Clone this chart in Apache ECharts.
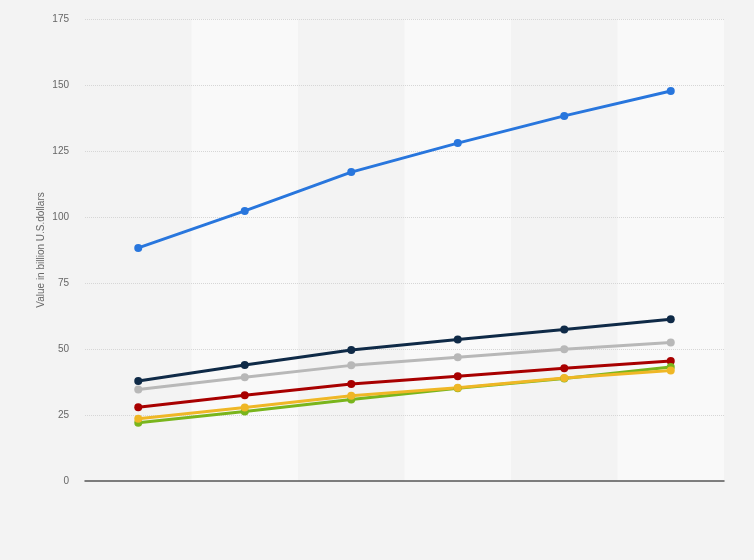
<!DOCTYPE html>
<html>
<head>
<meta charset="utf-8">
<script src="https://cdn.jsdelivr.net/npm/echarts@6/dist/echarts.min.js"></script>
<style>
html,body{margin:0;padding:0;background:#f3f3f3;}
#c{width:754px;height:560px;}
</style>
</head>
<body>
<div id="c"></div>
<script>
var categories = ['1', '2', '3', '4', '5', '6'];
var blueSeries = [88.3, 102.3, 117.0, 128.0, 138.3, 147.7];
var navySeries = [37.9, 43.9, 49.6, 53.6, 57.4, 61.3];
var graySeries = [34.7, 39.3, 43.8, 46.9, 49.9, 52.5];
var redSeries = [27.9, 32.5, 36.7, 39.7, 42.7, 45.5];
var greenSeries = [22.1, 26.3, 30.9, 35.1, 38.8, 43.2];
var yellowSeries = [23.6, 27.8, 32.3, 35.3, 39.0, 41.9];
var yTicks = [0, 25, 50, 75, 100, 125, 150, 175];

function mk(name, data, color) {
  return {
    name: name, type: 'line', data: data,
    symbol: 'circle', symbolSize: 8,
    lineStyle: {width: 3, color: color},
    itemStyle: {color: color},
    emphasis: {disabled: true},
    z: 3
  };
}

var chart = echarts.init(document.getElementById('c'), null, {renderer: 'canvas'});
chart.setOption({
  backgroundColor: '#f3f3f3',
  animation: false,
  grid: {left: 85, right: 30, top: 19, bottom: 79, containLabel: false},
  xAxis: {
    type: 'category',
    data: categories,
    boundaryGap: true,
    z: 0,
    axisLine: {lineStyle: {color: '#555', width: 1.5}},
    axisTick: {show: false},
    axisLabel: {show: false},
    splitArea: {show: true, areaStyle: {color: ['#f3f3f3', '#f9f9f9']}}
  },
  yAxis: {
    type: 'value',
    z: 1,
    min: yTicks[0], max: yTicks[yTicks.length - 1], interval: 25,
    name: 'Value in billion U.S.dollars',
    nameLocation: 'middle',
    nameGap: 39,
    nameMoveOverlap: false,
    nameRotate: 90,
    nameTextStyle: {color: '#666', fontSize: 10, fontFamily: 'Arial, Liberation Sans, sans-serif'},
    axisLine: {show: false},
    axisTick: {show: false},
    axisLabel: {color: '#666', fontSize: 10, margin: 16, fontFamily: 'Arial, Liberation Sans, sans-serif'},
    splitLine: {showMinLine: false, lineStyle: {color: '#d6d6d6', type: [1, 1], width: 1}}
  },
  series: [
    mk('Blue', blueSeries, '#2876dd'),
    mk('Navy', navySeries, '#0f2a47'),
    mk('Gray', graySeries, '#b8b8b8'),
    mk('Red', redSeries, '#a80000'),
    mk('Green', greenSeries, '#79b51c'),
    mk('Yellow', yellowSeries, '#efb726')
  ]
});
</script>
</body>
</html>
